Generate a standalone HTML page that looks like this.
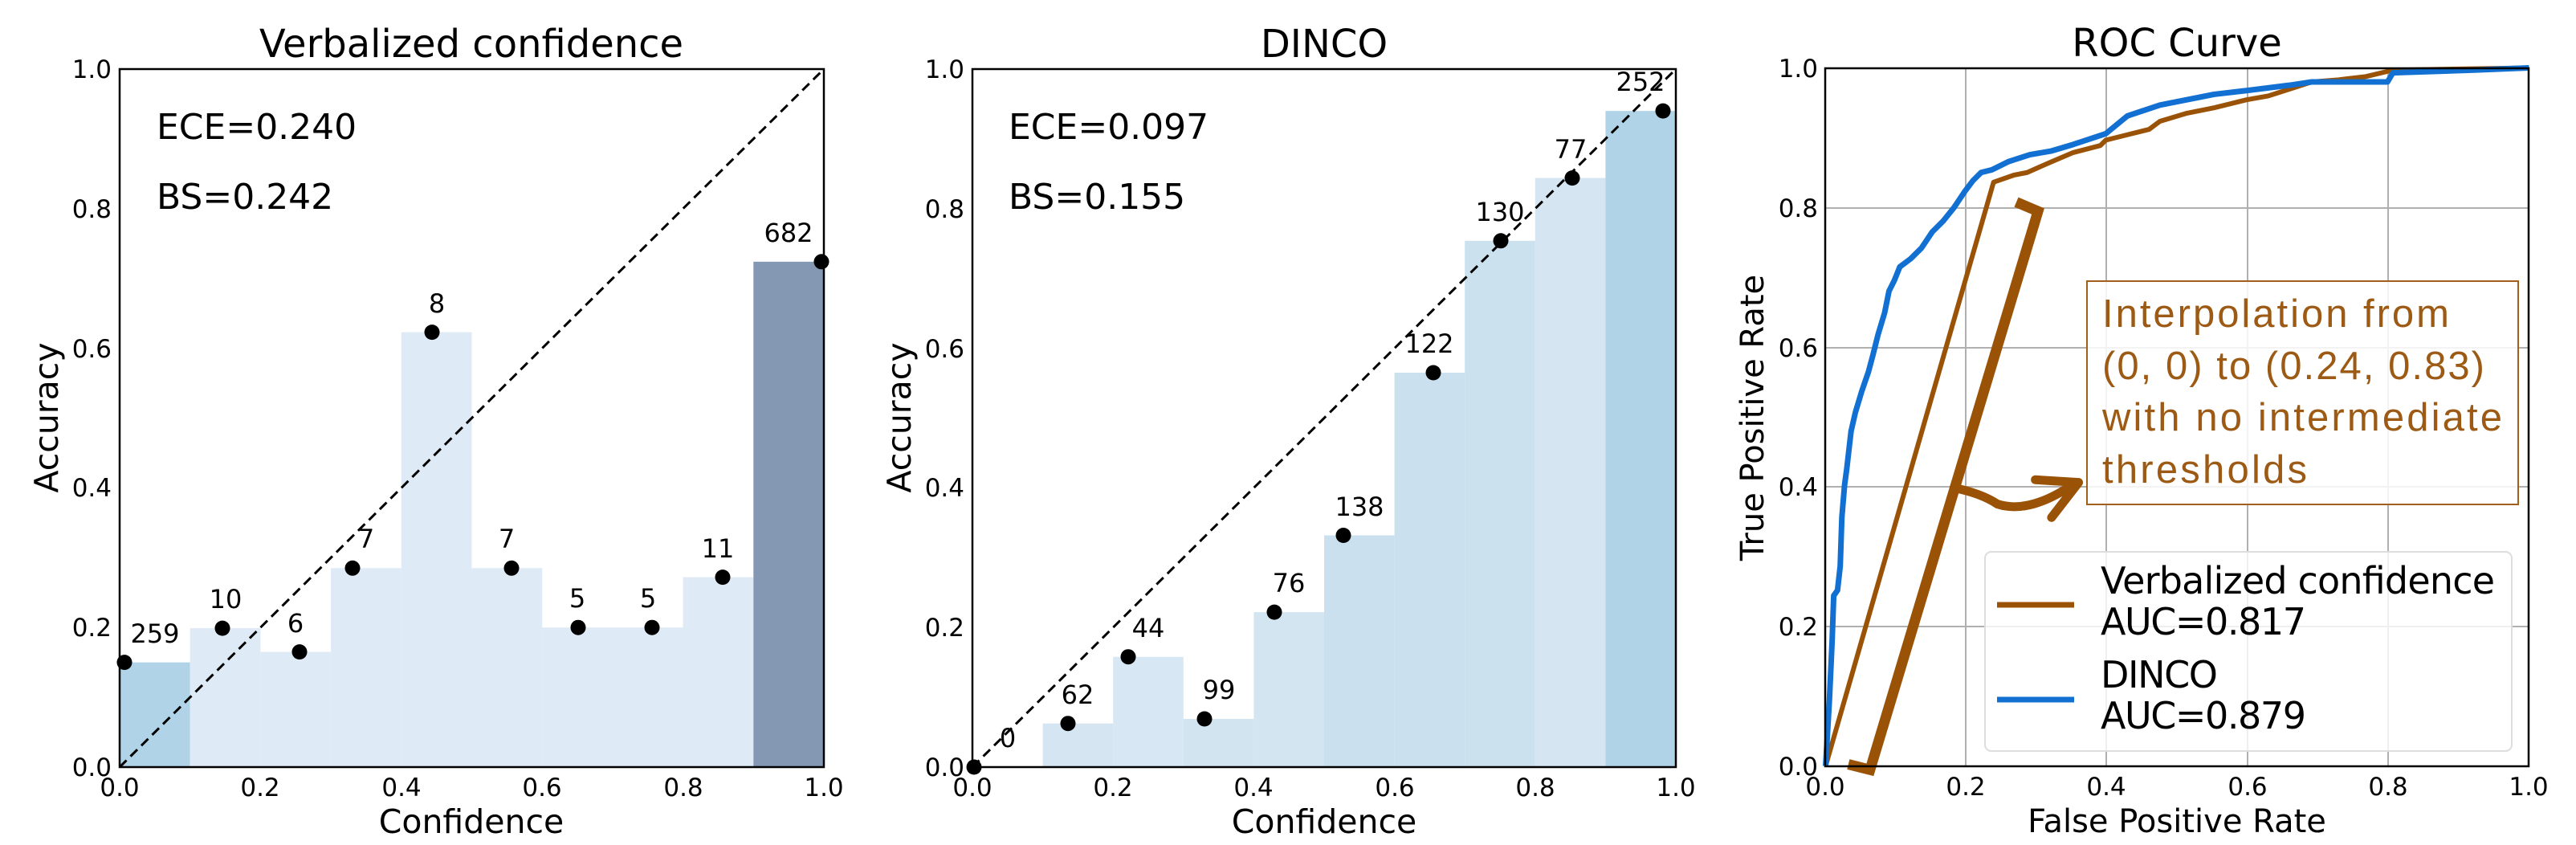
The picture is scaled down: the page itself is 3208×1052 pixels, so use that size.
<!DOCTYPE html>
<html><head><meta charset="utf-8"><style>
html,body{margin:0;padding:0;background:#fff;}
svg{display:block;font-family:"DejaVu Sans","Liberation Sans",sans-serif;}
</style></head><body>
<svg width="3208" height="1052" viewBox="0 0 3208 1052" xmlns="http://www.w3.org/2000/svg">
<rect width="3208" height="1052" fill="#fff"/>

<!-- ===== Panel 1 ===== -->
<g transform="translate(149,955) scale(877,-869)">
<rect x="0" y="0" width="0.1" height="0.150" fill="#b0d3e8"/>
<rect x="0.1" y="0" width="0.1" height="0.199" fill="#deeaf5"/>
<rect x="0.2" y="0" width="0.1" height="0.165" fill="#deeaf5"/>
<rect x="0.3" y="0" width="0.1" height="0.285" fill="#deeaf5"/>
<rect x="0.4" y="0" width="0.1" height="0.623" fill="#deeaf5"/>
<rect x="0.5" y="0" width="0.1" height="0.285" fill="#deeaf5"/>
<rect x="0.6" y="0" width="0.1" height="0.200" fill="#deeaf5"/>
<rect x="0.7" y="0" width="0.1" height="0.200" fill="#deeaf5"/>
<rect x="0.8" y="0" width="0.1" height="0.272" fill="#deeaf5"/>
<rect x="0.9" y="0" width="0.1" height="0.724" fill="#8497b3"/>
</g>
<line x1="149" y1="955" x2="1026" y2="86" stroke="#000" stroke-width="3" stroke-dasharray="12,7"/>
<g fill="#000">
<circle cx="155" cy="824.6" r="9.5"/><circle cx="277" cy="782.1" r="9.5"/><circle cx="373" cy="811.6" r="9.5"/>
<circle cx="439" cy="707.3" r="9.5"/><circle cx="538" cy="413.6" r="9.5"/><circle cx="637" cy="707.3" r="9.5"/>
<circle cx="720" cy="781.2" r="9.5"/><circle cx="812" cy="781.2" r="9.5"/><circle cx="900" cy="718.6" r="9.5"/>
<circle cx="1023" cy="325.8" r="9.5"/>
</g>
<rect x="149" y="86" width="877" height="869" fill="none" stroke="#000" stroke-width="2.5"/>
<g font-size="32" text-anchor="middle" fill="#000">
<text x="193" y="800">259</text><text x="281" y="757">10</text><text x="368" y="787">6</text>
<text x="456" y="682">7</text><text x="544" y="389">8</text><text x="631" y="682">7</text>
<text x="719" y="756">5</text><text x="807" y="756">5</text><text x="894" y="694">11</text>
<text x="982" y="301">682</text>
</g>
<g font-size="31" text-anchor="end" fill="#000">
<text x="139" y="966">0.0</text><text x="139" y="792">0.2</text><text x="139" y="618">0.4</text>
<text x="139" y="445">0.6</text><text x="139" y="271">0.8</text><text x="139" y="97">1.0</text>
</g>
<g font-size="31" text-anchor="middle" fill="#000">
<text x="149" y="991">0.0</text><text x="324" y="991">0.2</text><text x="500" y="991">0.4</text>
<text x="675" y="991">0.6</text><text x="851" y="991">0.8</text><text x="1026" y="991">1.0</text>
</g>
<text x="587" y="1037" font-size="41" text-anchor="middle">Confidence</text>
<text transform="translate(72,520) rotate(-90)" font-size="41" text-anchor="middle">Accuracy</text>
<text x="587" y="71" font-size="48" text-anchor="middle">Verbalized confidence</text>
<text x="195" y="173" font-size="44">ECE=0.240</text>
<text x="195" y="260" font-size="44">BS=0.242</text>

<!-- ===== Panel 2 ===== -->
<g transform="translate(1211,955) scale(876,-869)">
<rect x="0.1" y="0" width="0.1" height="0.0625" fill="#d5e6f2"/>
<rect x="0.2" y="0" width="0.1" height="0.158" fill="#d7e7f3"/>
<rect x="0.3" y="0" width="0.1" height="0.069" fill="#d3e4f1"/>
<rect x="0.4" y="0" width="0.1" height="0.222" fill="#d3e5f1"/>
<rect x="0.5" y="0" width="0.1" height="0.332" fill="#cbe0ee"/>
<rect x="0.6" y="0" width="0.1" height="0.565" fill="#cbe0ee"/>
<rect x="0.7" y="0" width="0.1" height="0.754" fill="#cbe1ee"/>
<rect x="0.8" y="0" width="0.1" height="0.844" fill="#d5e6f2"/>
<rect x="0.9" y="0" width="0.1" height="0.940" fill="#b1d3e8"/>
</g>
<line x1="1211" y1="955" x2="2087" y2="86" stroke="#000" stroke-width="3" stroke-dasharray="12,7"/>
<g fill="#000">
<circle cx="1213" cy="955" r="9.5"/><circle cx="1330" cy="900.7" r="9.5"/><circle cx="1405" cy="817.7" r="9.5"/>
<circle cx="1500" cy="895" r="9.5"/><circle cx="1587" cy="762.1" r="9.5"/><circle cx="1673" cy="666.5" r="9.5"/>
<circle cx="1785" cy="464" r="9.5"/><circle cx="1869" cy="299.8" r="9.5"/><circle cx="1958" cy="221.6" r="9.5"/>
<circle cx="2071" cy="138.1" r="9.5"/>
</g>
<rect x="1211" y="86" width="876" height="869" fill="none" stroke="#000" stroke-width="2.5"/>
<g font-size="32" text-anchor="middle" fill="#000">
<text x="1255" y="930">0</text><text x="1342" y="876">62</text><text x="1430" y="793">44</text>
<text x="1518" y="870">99</text><text x="1605" y="737">76</text><text x="1693" y="642">138</text>
<text x="1780" y="439">122</text><text x="1868" y="275">130</text><text x="1956" y="197">77</text>
<text x="2043" y="113">252</text>
</g>
<g font-size="31" text-anchor="end" fill="#000">
<text x="1201" y="966">0.0</text><text x="1201" y="792">0.2</text><text x="1201" y="618">0.4</text>
<text x="1201" y="445">0.6</text><text x="1201" y="271">0.8</text><text x="1201" y="97">1.0</text>
</g>
<g font-size="31" text-anchor="middle" fill="#000">
<text x="1211" y="991">0.0</text><text x="1386" y="991">0.2</text><text x="1561" y="991">0.4</text>
<text x="1737" y="991">0.6</text><text x="1912" y="991">0.8</text><text x="2087" y="991">1.0</text>
</g>
<text x="1649" y="1037" font-size="41" text-anchor="middle">Confidence</text>
<text transform="translate(1134,520) rotate(-90)" font-size="41" text-anchor="middle">Accuracy</text>
<text x="1649" y="71" font-size="48" text-anchor="middle">DINCO</text>
<text x="1256" y="173" font-size="44">ECE=0.097</text>
<text x="1256" y="260" font-size="44">BS=0.155</text>

<!-- ===== Panel 3 ===== -->
<g stroke="#b0b0b0" stroke-width="2">
<line x1="2448" y1="85" x2="2448" y2="954"/><line x1="2623" y1="85" x2="2623" y2="954"/>
<line x1="2799" y1="85" x2="2799" y2="954"/><line x1="2974" y1="85" x2="2974" y2="954"/>
<line x1="2273" y1="780" x2="3149" y2="780"/><line x1="2273" y1="606" x2="3149" y2="606"/>
<line x1="2273" y1="433" x2="3149" y2="433"/><line x1="2273" y1="259" x2="3149" y2="259"/>
</g>
<g transform="translate(2150,0) scale(0.6748,0.6711)" fill="none" stroke-linejoin="round">
<polyline vector-effect="non-scaling-stroke" stroke="#9a5306" stroke-width="6" points="183,1421 493,338 530,325 555,320 600,300 640,283 690,270 700,260 740,250 780,240 800,225 850,210 900,200 960,185 1000,178 1040,165 1080,152 1130,148 1180,142 1230,130 1481,126"/>
<polyline vector-effect="non-scaling-stroke" stroke="#1170d2" stroke-width="7" points="183,1421 190,1300 195,1190 198,1105 205,1095 210,1050 213,960 218,900 222,870 230,800 238,765 250,725 262,690 270,660 280,620 292,580 300,540 310,520 320,495 340,480 360,460 380,430 400,410 420,385 430,370 440,355 455,335 470,320 490,315 520,300 560,287 600,280 640,268 700,248 740,215 800,195 900,175 960,168 1040,158 1080,152 1220,152 1230,135 1380,130 1481,126"/>
<polyline vector-effect="non-scaling-stroke" stroke="#9a5306" stroke-width="13" stroke-linejoin="miter" points="535,375 575,392 265,1428 225,1418"/>
<path vector-effect="non-scaling-stroke" stroke="#9a5306" stroke-width="11" stroke-linecap="round" d="M420,905 Q470,915 500,935 Q560,955 645,895 M570,890 L650,895 L600,960"/>
</g>
<rect x="2599" y="350" width="537" height="278" fill="rgba(255,255,255,0.85)" stroke="#a0601a" stroke-width="2"/>
<g font-family="'Liberation Sans','DejaVu Sans',sans-serif" font-size="49" fill="#9c5a14">
<text x="2618" y="407" textLength="432">Interpolation from</text>
<text x="2618" y="472" textLength="476">(0, 0) to (0.24, 0.83)</text>
<text x="2618" y="536" textLength="498">with no intermediate</text>
<text x="2618" y="601" textLength="255">thresholds</text>
</g>
<rect x="2472" y="687" width="656" height="248" rx="8" fill="rgba(255,255,255,0.8)" stroke="#dddddd" stroke-width="2"/>
<line x1="2487" y1="753" x2="2583" y2="753" stroke="#9a5306" stroke-width="7"/>
<line x1="2487" y1="871" x2="2583" y2="871" stroke="#1170d2" stroke-width="7"/>
<g font-size="46" fill="#000">
<text x="2616" y="739" textLength="491">Verbalized confidence</text>
<text x="2616" y="790" textLength="256">AUC=0.817</text>
<text x="2616" y="856" textLength="146">DINCO</text>
<text x="2616" y="907" textLength="256">AUC=0.879</text>
</g>
<rect x="2273" y="85" width="876" height="869" fill="none" stroke="#000" stroke-width="2.5"/>
<g font-size="31" text-anchor="end" fill="#000">
<text x="2264" y="965">0.0</text><text x="2264" y="791">0.2</text><text x="2264" y="617">0.4</text>
<text x="2264" y="444">0.6</text><text x="2264" y="270">0.8</text><text x="2264" y="96">1.0</text>
</g>
<g font-size="31" text-anchor="middle" fill="#000">
<text x="2273" y="990">0.0</text><text x="2448" y="990">0.2</text><text x="2623" y="990">0.4</text>
<text x="2799" y="990">0.6</text><text x="2974" y="990">0.8</text><text x="3149" y="990">1.0</text>
</g>
<text x="2711" y="1036" font-size="40" text-anchor="middle">False Positive Rate</text>
<text transform="translate(2196,520) rotate(-90)" font-size="40" text-anchor="middle">True Positive Rate</text>
<text x="2711" y="70" font-size="48" text-anchor="middle">ROC Curve</text>
</svg>
</body></html>
